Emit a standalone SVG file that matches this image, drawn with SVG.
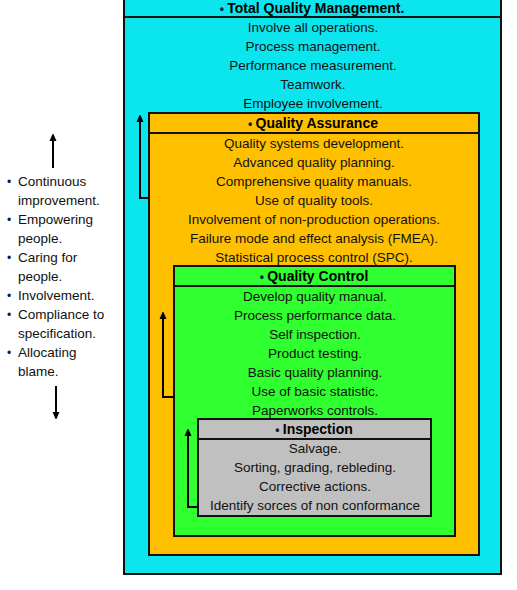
<svg xmlns="http://www.w3.org/2000/svg" width="517" height="590" viewBox="0 0 517 590">
<defs>
<marker id="ah" markerWidth="7" markerHeight="8" refX="4" refY="4" orient="auto" markerUnits="userSpaceOnUse">
<path d="M0,0.5 L8,4 L0,7.5 z" fill="#000"/>
</marker>
<style>
.box{stroke:#111;stroke-width:2}
.hdr{font-family:"Liberation Sans",Arial,sans-serif;font-size:14px;font-weight:bold;fill:#000;text-anchor:middle}
.txt{font-family:"Liberation Sans",Arial,sans-serif;font-size:13.5px;fill:#111;text-anchor:middle}
.lt{font-family:"Liberation Sans",Arial,sans-serif;font-size:13.5px;fill:#111}
.bul{font-size:12px;fill:#0b1a4a}
.con{fill:none;stroke:#000;stroke-width:2;marker-end:url(#ah)}
</style>
</defs>
<rect width="517" height="590" fill="#fff"/>
<g id="tqm">
<rect class="box" x="124" y="-2" width="377" height="576" fill="#0BE6EE"/>
<line class="box" x1="124" y1="17" x2="501" y2="17"/>
<text class="hdr" x="312" y="13"><tspan class="bul">• </tspan>Total Quality Management.</text>
<text class="txt" x="313" y="32">Involve all operations.</text>
<text class="txt" x="313" y="51">Process management.</text>
<text class="txt" x="313" y="70">Performance measurement.</text>
<text class="txt" x="313" y="89">Teamwork.</text>
<text class="txt" x="313" y="108">Employee involvement.</text>
</g>
<g id="qa">
<rect class="box" x="149" y="113" width="330" height="442" fill="#FFC000"/>
<line class="box" x1="149" y1="133" x2="479" y2="133"/>
<text class="hdr" x="313" y="128"><tspan class="bul">• </tspan>Quality Assurance</text>
<text class="txt" x="314" y="148">Quality systems development.</text>
<text class="txt" x="314" y="167">Advanced quality planning.</text>
<text class="txt" x="314" y="186">Comprehensive quality manuals.</text>
<text class="txt" x="314" y="205">Use of quality tools.</text>
<text class="txt" x="314" y="224">Involvement of non-production operations.</text>
<text class="txt" x="314" y="243">Failure mode and effect analysis (FMEA).</text>
<text class="txt" x="314" y="262">Statistical process control (SPC).</text>
</g>
<g id="qc">
<rect class="box" x="174" y="266" width="281" height="270" fill="#30FF30"/>
<line class="box" x1="174" y1="286" x2="455" y2="286"/>
<text class="hdr" x="314" y="281"><tspan class="bul">• </tspan>Quality Control</text>
<text class="txt" x="315" y="301">Develop quality manual.</text>
<text class="txt" x="315" y="320">Process performance data.</text>
<text class="txt" x="315" y="339">Self inspection.</text>
<text class="txt" x="315" y="358">Product testing.</text>
<text class="txt" x="315" y="377">Basic quality planning.</text>
<text class="txt" x="315" y="396">Use of basic statistic.</text>
<text class="txt" x="315" y="415">Paperworks controls.</text>
</g>
<g id="inspection">
<rect class="box" x="198" y="419" width="233" height="97" fill="#C0C0C0"/>
<line class="box" x1="198" y1="439" x2="431" y2="439"/>
<text class="hdr" x="314" y="434"><tspan class="bul">• </tspan>Inspection</text>
<text class="txt" x="315" y="453">Salvage.</text>
<text class="txt" x="315" y="472">Sorting, grading, rebleding.</text>
<text class="txt" x="315" y="491">Corrective actions.</text>
<text class="txt" x="315" y="510">Identify sorces of non conformance</text>
</g>
<g id="side-list">
<text class="lt" x="7" y="186"><tspan class="bul">•</tspan></text>
<text class="lt" x="18" y="186">Continuous</text>
<text class="lt" x="18" y="205">improvement.</text>
<text class="lt" x="7" y="224"><tspan class="bul">•</tspan></text>
<text class="lt" x="18" y="224">Empowering</text>
<text class="lt" x="18" y="243">people.</text>
<text class="lt" x="7" y="262"><tspan class="bul">•</tspan></text>
<text class="lt" x="18" y="262">Caring for</text>
<text class="lt" x="18" y="281">people.</text>
<text class="lt" x="7" y="300"><tspan class="bul">•</tspan></text>
<text class="lt" x="18" y="300">Involvement.</text>
<text class="lt" x="7" y="319"><tspan class="bul">•</tspan></text>
<text class="lt" x="18" y="319">Compliance to</text>
<text class="lt" x="18" y="338">specification.</text>
<text class="lt" x="7" y="357"><tspan class="bul">•</tspan></text>
<text class="lt" x="18" y="357">Allocating</text>
<text class="lt" x="18" y="376">blame.</text>
</g>
<g id="connectors">
<path class="con" d="M149,198 H140 V118"/>
<path class="con" d="M174,397 H163 V315"/>
<path class="con" d="M198,507 H188 V432"/>
<path class="con" d="M53,168 V137"/>
<path class="con" d="M56,386 V416"/>
</g>
</svg>
